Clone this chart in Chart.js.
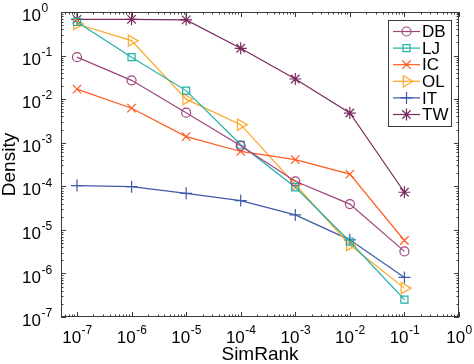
<!DOCTYPE html>
<html>
<head>
<meta charset="utf-8">
<script src="https://cdn.jsdelivr.net/npm/chart.js@4.4.0/dist/chart.umd.min.js"></script>
<style>
  html, body { margin: 0; padding: 0; background: #fff; }
</style>
</head>
<body>
<canvas id="densityChart" width="474" height="364"></canvas>
<script>
// SimRank thresholds (x) and density per dataset (y)
const simRank = [1e-7, 1e-6, 1e-5, 1e-4, 1e-3, 1e-2, 1e-1];
const dbDensity = [0.092, 0.027, 0.0049, 8.5e-4, 1.3e-4, 3.9e-5, 3.2e-6];
const ljDensity = [0.59, 0.092, 0.0157, 9.0e-4, 9.5e-5, 5.4e-6, 2.5e-7];
const icDensity = [0.017, 0.0062, 0.00138, 6.3e-4, 4.1e-4, 1.9e-4, 5.7e-6];
const olDensity = [0.53, 0.22, 0.010, 0.0026, 1.1e-4, 4.5e-6, 4.6e-7];
const itDensity = [1.04e-4, 9.8e-5, 6.9e-5, 4.7e-5, 2.2e-5, 5.9e-6, 8.1e-7];
const twDensity = [0.68, 0.68, 0.66, 0.147, 0.029, 0.0048, 7.3e-5];

const seriesNames = ["DB", "LJ", "IC", "OL", "IT", "TW"];
const seriesData = [dbDensity, ljDensity, icDensity, olDensity, itDensity, twDensity];

// tick label exponents (10^k)
const xTickExp = [-7, -6, -5, -4, -3, -2, -1, 0];
const yTickExp = [0, -1, -2, -3, -4, -5, -6, -7];

// marker styles, same order as seriesNames
const styles = [
    { color: "#a0437f", pointStyle: "circle", radius: 4.5, rotation: 0 },
    { color: "#1fb0a8", pointStyle: "rect", radius: 5, rotation: 0 },
    { color: "#ff5a1f", pointStyle: "crossRot", radius: 6, rotation: 0 },
    { color: "#ffa524", pointStyle: "triangle", radius: 6.5, rotation: 90 },
    { color: "#3d5aa8", pointStyle: "cross", radius: 6, rotation: 0 },
    { color: "#7b2b5d", pointStyle: "star", radius: 6, rotation: 0 }
];

const FONT = "Liberation Sans, Arial, sans-serif";
const AXIS_COLOR = "#3a3a3a";

function drawPow(ctx, x, y, exp, align) {
    // draws "10" with a raised exponent; align: "right" (y axis) or "center" (x axis)
    ctx.font = "17px " + FONT;
    const base = "10";
    const bw = ctx.measureText(base).width;
    ctx.font = "12px " + FONT;
    const e = String(exp);
    const ew = ctx.measureText(e).width;
    let bx;
    if (align === "right") bx = x - bw;
    else bx = x - (bw + ew) / 2;
    ctx.textAlign = "left";
    ctx.textBaseline = "middle";
    ctx.font = "17px " + FONT;
    ctx.fillText(base, bx, y + 4.5);
    ctx.font = "12px " + FONT;
    ctx.fillText(e, bx + bw + 0.5, y - 3);
}

const framePlugin = {
    id: "frame",
    afterDatasetsDraw(chart) {
        const ctx = chart.ctx;
        const a = chart.chartArea;
        const xs = chart.scales.x, ys = chart.scales.y;
        ctx.save();
        ctx.strokeStyle = AXIS_COLOR;
        ctx.lineWidth = 1;
        ctx.strokeRect(Math.round(a.left) + 0.5, Math.round(a.top) + 0.5,
            Math.round(a.right - a.left) - 1, Math.round(a.bottom - a.top) - 1);

        // inward ticks on all four sides
        ctx.beginPath();
        for (let k = -8; k <= 0; k++) {
            for (let m = 1; m <= 9; m++) {
                const v = m * Math.pow(10, k);
                const len = m === 1 ? 5 : 2.5;
                if (v >= xs.min && v <= xs.max) {
                    const px = Math.round(xs.getPixelForValue(v)) + 0.5;
                    ctx.moveTo(px, a.bottom); ctx.lineTo(px, a.bottom - len);
                    ctx.moveTo(px, a.top); ctx.lineTo(px, a.top + len);
                }
                if (v >= ys.min && v <= ys.max) {
                    const py = Math.round(ys.getPixelForValue(v)) + 0.5;
                    ctx.moveTo(a.left, py); ctx.lineTo(a.left + len, py);
                    ctx.moveTo(a.right, py); ctx.lineTo(a.right - len, py);
                }
            }
        }
        ctx.stroke();

        // tick labels
        ctx.fillStyle = "#000";
        xTickExp.forEach(k => drawPow(ctx, xs.getPixelForValue(Math.pow(10, k)), a.bottom + 17, k, "center"));
        yTickExp.forEach(k => drawPow(ctx, a.left - 20, ys.getPixelForValue(Math.pow(10, k)), k, "right"));

        // axis titles
        ctx.font = "19px " + FONT;
        ctx.textAlign = "center";
        ctx.textBaseline = "middle";
        ctx.fillText("SimRank", (a.left + a.right) / 2, 355);
        ctx.save();
        ctx.translate(10, (a.top + a.bottom) / 2);
        ctx.rotate(-Math.PI / 2);
        ctx.fillText("Density", 0, 0);
        ctx.restore();

        // legend box
        const lx = 388, ly = 20, lw = 63, lh = 106;
        ctx.fillStyle = "#fff";
        ctx.fillRect(lx, ly, lw, lh);
        ctx.strokeStyle = AXIS_COLOR;
        ctx.lineWidth = 1;
        ctx.strokeRect(lx + 0.5, ly + 0.5, lw, lh);
        seriesNames.forEach((name, i) => {
            const s = styles[i];
            const cy = 31.5 + i * 16.6;
            ctx.strokeStyle = s.color;
            ctx.lineWidth = 1.2;
            ctx.beginPath();
            ctx.moveTo(393, cy); ctx.lineTo(420, cy);
            ctx.stroke();
            ctx.fillStyle = "rgba(0,0,0,0)";
            Chart.helpers.drawPoint(ctx, {
                pointStyle: s.pointStyle, radius: s.radius, rotation: s.rotation, borderWidth: 1.2
            }, 406.5, cy);
            ctx.fillStyle = "#000";
            ctx.font = "17px " + FONT;
            ctx.textAlign = "left";
            ctx.textBaseline = "middle";
            ctx.fillText(name, 422, cy + 1);
        });
        ctx.restore();
    }
};

const datasets = seriesNames.map((name, i) => ({
    label: name,
    data: simRank.map((x, j) => ({ x: x, y: seriesData[i][j] })),
    borderColor: styles[i].color,
    backgroundColor: "rgba(0,0,0,0)",
    borderWidth: 1.2,
    pointStyle: styles[i].pointStyle,
    pointRadius: styles[i].radius,
    pointRotation: styles[i].rotation,
    pointBorderWidth: 1.2,
    pointBorderColor: styles[i].color,
    pointBackgroundColor: "rgba(0,0,0,0)",
    tension: 0,
    fill: false
}));

new Chart(document.getElementById("densityChart").getContext("2d"), {
    type: "line",
    data: { datasets: datasets },
    options: {
        responsive: false,
        animation: false,
        layout: { padding: { top: 12, right: 15, left: 0, bottom: 0 } },
        plugins: { legend: { display: false }, tooltip: { enabled: false } },
        scales: {
            x: {
                type: "logarithmic",
                min: Math.pow(10, -7.293),
                max: 1,
                ticks: { display: false },
                grid: { display: false },
                border: { display: false },
                afterFit: s => { s.height = 47; }
            },
            y: {
                type: "logarithmic",
                min: 1e-7,
                max: 1,
                ticks: { display: false },
                grid: { display: false },
                border: { display: false },
                afterFit: s => { s.width = 61; }
            }
        }
    },
    plugins: [framePlugin]
});
</script>
</body>
</html>
